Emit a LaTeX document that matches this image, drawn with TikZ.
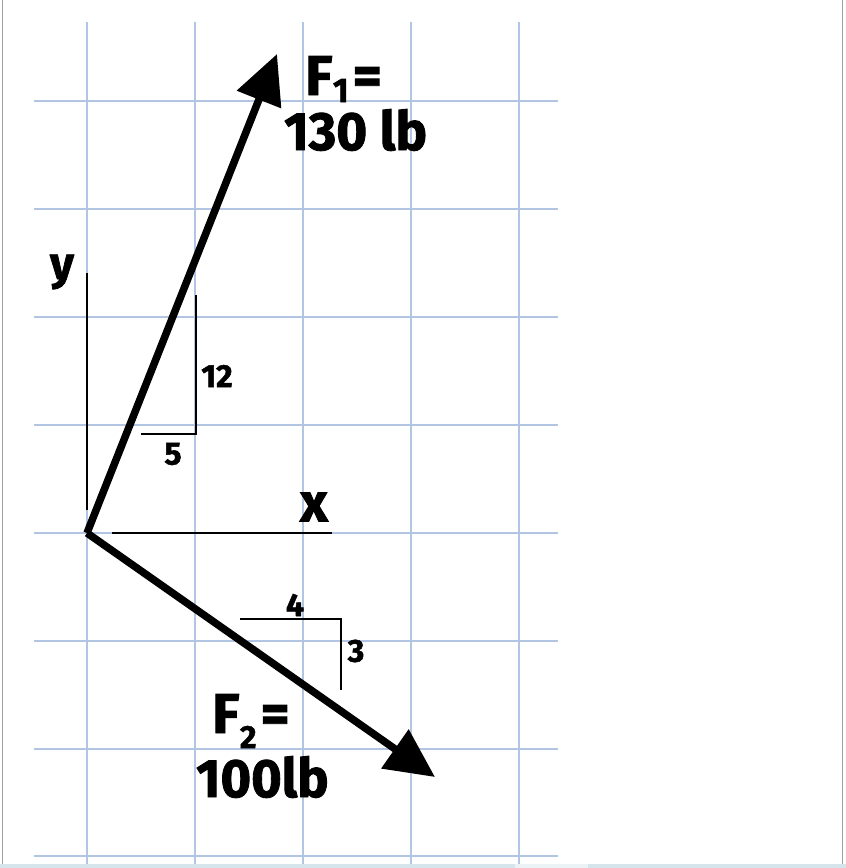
\documentclass[tikz,border=0pt]{standalone}
\usepackage{fontspec}
\setmainfont{Fira Sans}
\newfontfamily\handfont{Fira Sans}[UprightFont=* Bold, FakeBold=1.6]
\usetikzlibrary{arrows.meta}
\definecolor{gridblue}{RGB}{178,198,228}
\definecolor{barblue}{RGB}{214,228,236}
\definecolor{barlight}{RGB}{236,243,247}
\definecolor{framegray}{RGB}{160,160,160}
\tikzset{
  gridline/.style={gridblue, line width=1.5pt},
  axisline/.style={black, line width=2.5pt},
  slopeline/.style={black, line width=2.5pt},
  force/.style={line width=7.5pt, -{Triangle[length=49pt,width=46pt]}},
  hand/.style={font=\fontsize{#1}{#1}\selectfont\handfont, inner sep=0pt},
  valtext/.style={text height=40pt, text depth=0pt},
}
\begin{document}
\begin{tikzpicture}[x=1pt,y=-1pt]
\useasboundingbox (0,0) rectangle (846,868);
\fill[white] (0,0) rectangle (846,868);
% grid
\foreach \gx in {87,195,303,411,519} \draw[gridline] (\gx,22) -- (\gx,864);
\foreach \gy in {101,209,317,425,533,641,749,856} \draw[gridline] (34,\gy) -- (558,\gy);
% page frame and bottom bar
\draw[framegray, line width=1pt] (2,0) -- (2,864);
\draw[framegray, line width=1pt] (842,0) -- (842,864);
\fill[barblue] (0,864) rectangle (846,868);
\fill[barlight] (515,864) rectangle (588,868);
% key points
\coordinate (O) at (87,533);
\coordinate (F1tip) at (277,54);
\coordinate (F2tip) at (435,777);
\coordinate (ytop) at (87,273);
\coordinate (ybot) at (87,510);
\coordinate (xl) at (112,533);
\coordinate (xr) at (332,533);
\coordinate (s1top) at (196,295);
\coordinate (s1corner) at (196,434);
\coordinate (s1left) at (141,434);
\coordinate (s2left) at (240,619);
\coordinate (s2corner) at (341,619);
\coordinate (s2bot) at (341,690);
% axes
\draw[axisline] (ytop) -- (ybot);
\draw[axisline] (xl) -- (xr);
% slope triangles
\draw[slopeline] (s1top) -- (s1corner) -- (s1left);
\draw[slopeline] (s2left) -- (s2corner) -- (s2bot);
% forces
\draw[force] (O) -- (F1tip);
\draw[force] (O) -- (F2tip);
% labels
\node[hand=46] (ylab) at (62,272) {y};
\node[hand=54] (xlab) at (314,507) {x};
\node[hand=32] (n12) at (217,376) {12};
\node[hand=32] (n5) at (173,454) {5};
\node[hand=32] (n4) at (295,605) {4};
\node[hand=32] (n3) at (356,651) {3};
\node[hand=56, anchor=base west, text depth=0pt] (F1lab) at (305,95)
  {F\kern0.5pt\raisebox{-7pt}[0pt][0pt]{\fontsize{34}{34}\selectfont\handfont 1}\kern4pt=};
\node[hand=54, anchor=base west, valtext] (F1val) at (284,150) {\scalebox{0.98}[1]{130 lb}};
\node[hand=56, anchor=base west, text depth=0pt] (F2lab) at (212,733)
  {F\kern0.5pt\raisebox{-15pt}[0pt][0pt]{\fontsize{32}{32}\selectfont\handfont 2}\kern4pt=};
\node[hand=54, anchor=base west, valtext] (F2val) at (196,797) {\scalebox{0.97}[1]{100lb}};
\end{tikzpicture}
\end{document}
